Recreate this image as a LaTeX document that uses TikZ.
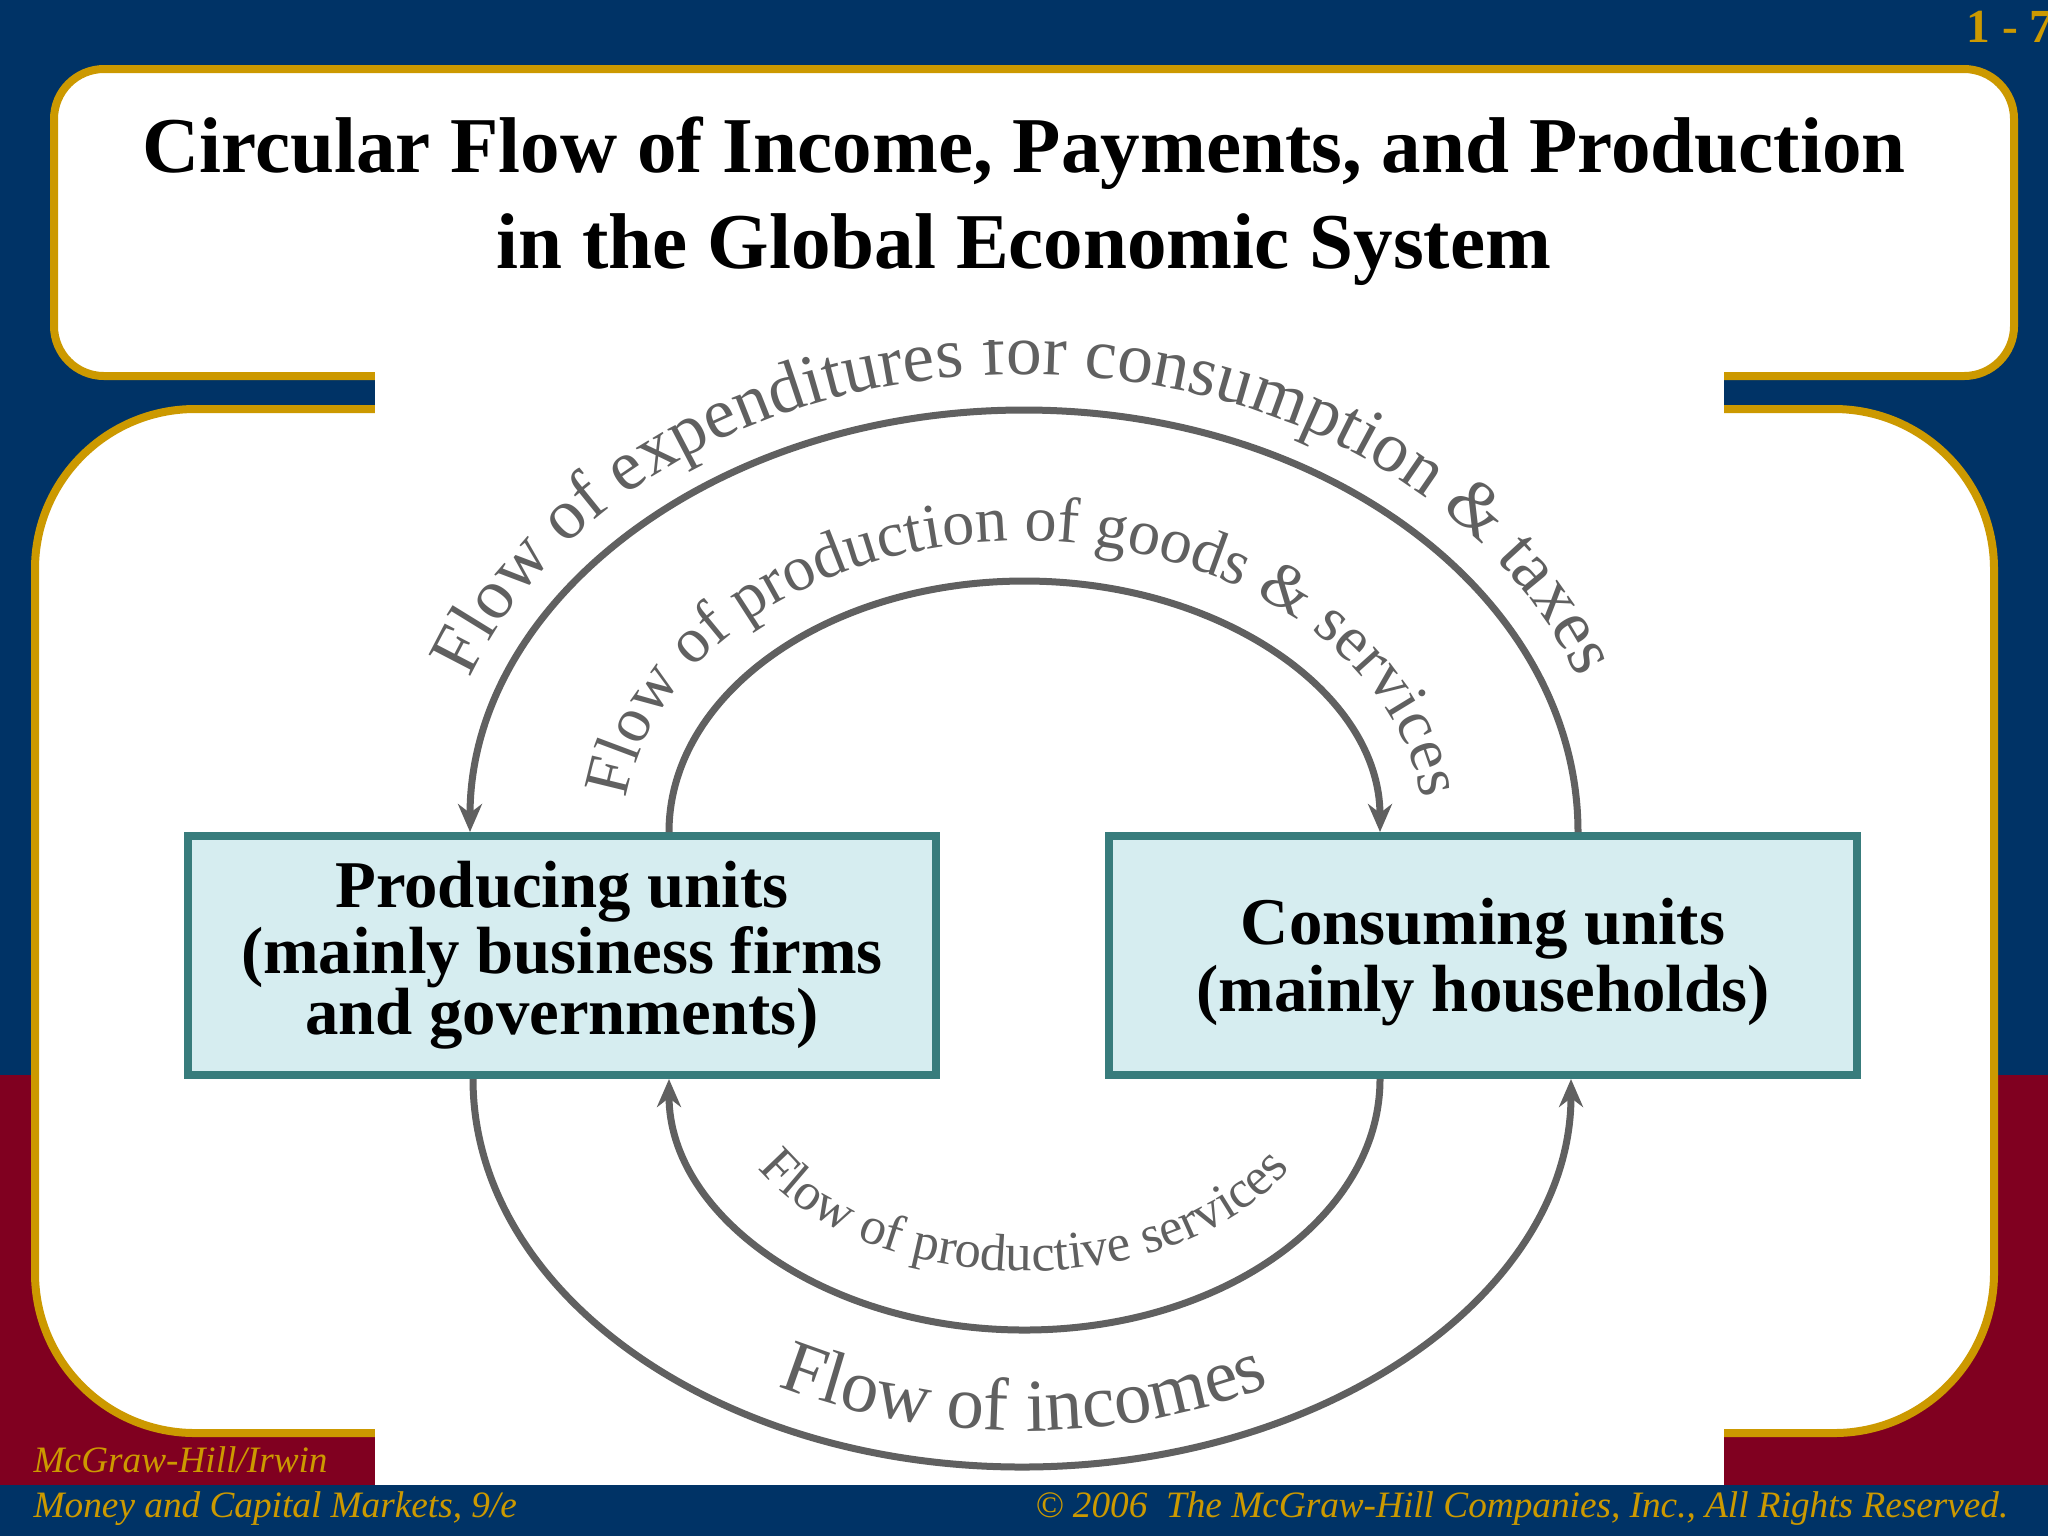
\documentclass[tikz,border=0pt]{standalone}
\usepackage{fontspec}
\setmainfont{Liberation Serif}
\usepackage{tikz}
\usetikzlibrary{arrows.meta,decorations.text}

\definecolor{SlideBlue}{RGB}{0,51,102}
\definecolor{SlideRed}{RGB}{128,0,32}
\definecolor{SlideGold}{RGB}{204,153,0}
\definecolor{BoxTeal}{RGB}{56,124,124}
\definecolor{BoxFill}{RGB}{214,237,240}
\definecolor{FlowGray}{RGB}{96,96,96}

\begin{document}
\begin{tikzpicture}[x=0.1mm, y=0.1mm,
    unitbox/.style={draw=BoxTeal, line width=0.8mm, fill=BoxFill, minimum width=74.8mm,
      minimum height=23.9mm, inner sep=0pt, align=center,
      font=\bfseries\fontsize{19}{17.5}\selectfont},
    flow/.style={draw=FlowGray, line width=0.7mm, -{Stealth[length=2.8mm, width=2.4mm]}},
    foot/.style={inner sep=0pt, text=SlideGold, font=\itshape\fontsize{10.6}{12}\selectfont},
    titletext/.style={inner sep=0pt, font=\bfseries\fontsize{22.5}{27}\selectfont}]
      \useasboundingbox (0,0) rectangle (2048,-1536);
      % slide background
      \fill[SlideBlue] (0,0) rectangle (2048,-1536);
      \fill[SlideRed] (0,-1075) rectangle (2048,-1485);
      \draw[SlideGold, line width=0.8mm, fill=white, rounded corners=5mm] (54,-69) rectangle (2014,-376);
      \draw[SlideGold, line width=0.8mm, fill=white, rounded corners=16mm] (35,-409) rectangle (1994,-1433);
      \fill[white] (375,-340) rectangle (1724,-1485);

      \node[titletext, anchor=base] at (1024,-172) (Title1) {Circular Flow of Income, Payments, and Production};
      \node[titletext, anchor=base] at (1024,-268) (Title2) {in the Global Economic System};
      \node[anchor=base west, inner sep=0pt, text=SlideGold, font=\bfseries\fontsize{13.5}{14}\selectfont] at (1966,-42) (SlideNo) {1 - 7};

      \node[unitbox] at (562,-955.5) (Prod) {Producing units\\(mainly business firms\\and governments)};
      \node[unitbox] at (1483,-955.5) (Cons) {\rule{0pt}{17pt}Consuming units\\[1.5pt](mainly households)};

      % arc end points on the boxes
      \coordinate (CT1) at (1578,0 |- Cons.north);
      \coordinate (PT2) at (669,0 |- Prod.north);
      \coordinate (CB2) at (1380,0 |- Cons.south);
      \coordinate (PB1) at (473,0 |- Prod.south);

      \draw[flow] (CT1) arc[start angle=0, end angle=180, x radius=554, y radius=422];
      \draw[flow] (PT2) arc[start angle=180, end angle=0, x radius=355.5, y radius=251];
      \draw[flow] (CB2) arc[start angle=0, end angle=-180, x radius=355.5, y radius=251];
      \draw[flow] (PB1) arc[start angle=180, end angle=360, x radius=549, y radius=388];

      % labels along the arcs
      \begin{scope}
        \clip (0,-340) rectangle (2048,-1536);
        \path[decorate, decoration={text along path, text align=center, text color=FlowGray,
          text={|\fontsize{20.3}{22}\selectfont|Flow of expenditures for consumption {\&} taxes}}]
          (436,-833) arc[start angle=180, end angle=0, x radius=588, y radius=459];
      \end{scope}
      \path[decorate, decoration={text along path, text align=center, text color=FlowGray,
        text={|\fontsize{18.3}{20}\selectfont|Flow of production of goods {\&} services}}]
        (624,-833) arc[start angle=180, end angle=0, x radius=400, y radius=292];
      \path[decorate, decoration={text along path, text align=center, text color=FlowGray,
        text={|\fontsize{15}{16}\selectfont|Flow of productive services}}]
        (724,-1079) arc[start angle=180, end angle=360, x radius=300, y radius=192];
      \path[decorate, decoration={text along path, text align=center, text color=FlowGray,
        text={|\fontsize{21.3}{22}\selectfont|Flow of incomes}}]
        (522,-1079) arc[start angle=180, end angle=360, x radius=502, y radius=352];

      \node[foot, anchor=base west] at (33,-1472) (Publisher) {McGraw-Hill/Irwin};
      \node[foot, anchor=base west] at (33,-1517) (Book) {Money and Capital Markets, 9/e};
      \node[foot, anchor=base east] at (2009,-1517) (Rights) {\textcopyright{} 2006\ \ The McGraw-Hill Companies, Inc., All Rights Reserved.};
\end{tikzpicture}
\end{document}
